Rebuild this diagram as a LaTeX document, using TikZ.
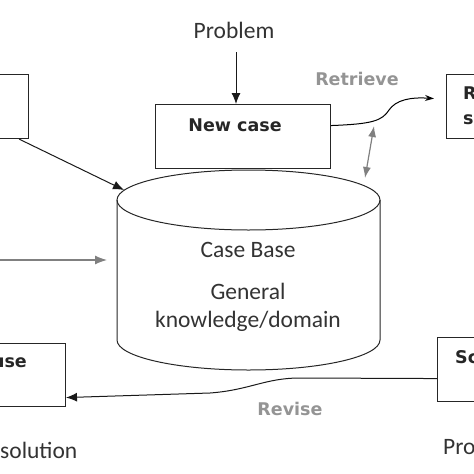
\documentclass[tikz,border=0pt]{standalone}
\usepackage{fontspec}
\setmainfont{Carlito}
\newfontfamily\boldfam{DejaVu Sans}
\usetikzlibrary{arrows.meta}

\tikzset{
  box/.style={draw=black!85, line width=1.1pt, inner sep=0pt},
  plain text/.style={font=\fontsize{23.5}{28}\selectfont, text=black!80, inner sep=0pt},
  bold text/.style={font=\boldfam\bfseries\fontsize{17.5}{21}\selectfont, text=black!85, inner sep=0pt},
  step label/.style={font=\boldfam\bfseries\fontsize{17.5}{21}\selectfont, text=black!42, inner sep=0pt},
  flow/.style={line width=1pt, draw=black!90, -{Latex[length=11pt,width=9pt]}},
  feed/.style={line width=1.2pt, draw=black!50, -{Latex[length=12pt,width=9pt]}},
}

\begin{document}
\begin{tikzpicture}[x=1pt, y=-1pt]
  \useasboundingbox (0,0) rectangle (474,474);
  \clip (0,0) rectangle (474,474);
  % boxes
  \node[box, anchor=north west, minimum width=110pt, minimum height=64pt] (caseleft) at (-82,74) {};
  \node[box, anchor=north west, minimum width=175pt, minimum height=64pt] (newcase) at (155,104) {};
  \node[box, anchor=north west, minimum width=80pt, minimum height=64pt] (retrieved) at (446,74) {};
  \node[box, anchor=north east, minimum width=100pt, minimum height=63pt] (reused) at (66,343) {};
  \node[box, anchor=north west, minimum width=80pt, minimum height=64pt] (solved) at (437,337) {};
  % case base cylinder
  \draw[line width=1pt, black!85] (248.5,200) ellipse [x radius=131.5, y radius=30];
  \draw[line width=1pt, black!85] (117,200) -- (117,340) arc [start angle=180, end angle=0, x radius=131.5, y radius=30] -- (380,200);
  \coordinate (cyltopleft) at (124,190);
  \coordinate (cyltopright) at (365,178);
  \coordinate (cylleft) at (107,260);
  \coordinate (feedin) at (-5,260);
  \coordinate (retrievelink) at (374,126);
  % texts
  \node[plain text] (problem) at (234,30) {Problem};
  \node[bold text] (newcasetxt) at (235,125) {New case};
  \node[step label] (retrievetxt) at (357,79) {Retrieve};
  \node[step label] (revisetxt) at (290,409) {Revise};
  \node[bold text, anchor=west] (rtxt) at (463,93) {R};
  \node[bold text, anchor=west] (stxt) at (463,120) {s};
  \node[bold text, anchor=west] (sctxt) at (455,357) {Sc};
  \node[bold text, anchor=east] (usetxt) at (27,363) {use};
  \node[plain text, anchor=west] (solutiontxt) at (0,450) {solution};
  \node[plain text, anchor=west] (protxt) at (443,447) {Pro};
  \node[plain text] (casebase) at (248,250) {Case Base};
  \node[plain text, align=center] (general) at (248,307) {General\\knowledge/domain};
  % connectors
  \draw[flow] (problem.south) ++(2,14) coordinate (probfoot) -- (probfoot |- newcase.north);
  \draw[flow] ([xshift=-10pt]caseleft.south east) -- (cyltopleft);
  \draw[feed] (feedin) -- (cylleft);
  \draw[line width=1.2pt, draw=black!50, {Latex[length=11pt,width=8pt]}-{Latex[length=11pt,width=8pt]}] (cyltopright) -- (retrievelink);
  \draw[line width=1pt, -{Stealth[length=9pt,width=6pt]}] ([yshift=11pt]newcase.east) .. controls (372,124) and (382,121) .. (389,110) .. controls (396,100) and (410,97) .. ([xshift=-12pt,yshift=8pt]retrieved.west);
  \draw[flow] ([yshift=-9pt]solved.west) -- (300,378) .. controls (265,378) and (250,390) .. (210,393) -- ([yshift=-22.5pt]reused.east);
\end{tikzpicture}
\end{document}
